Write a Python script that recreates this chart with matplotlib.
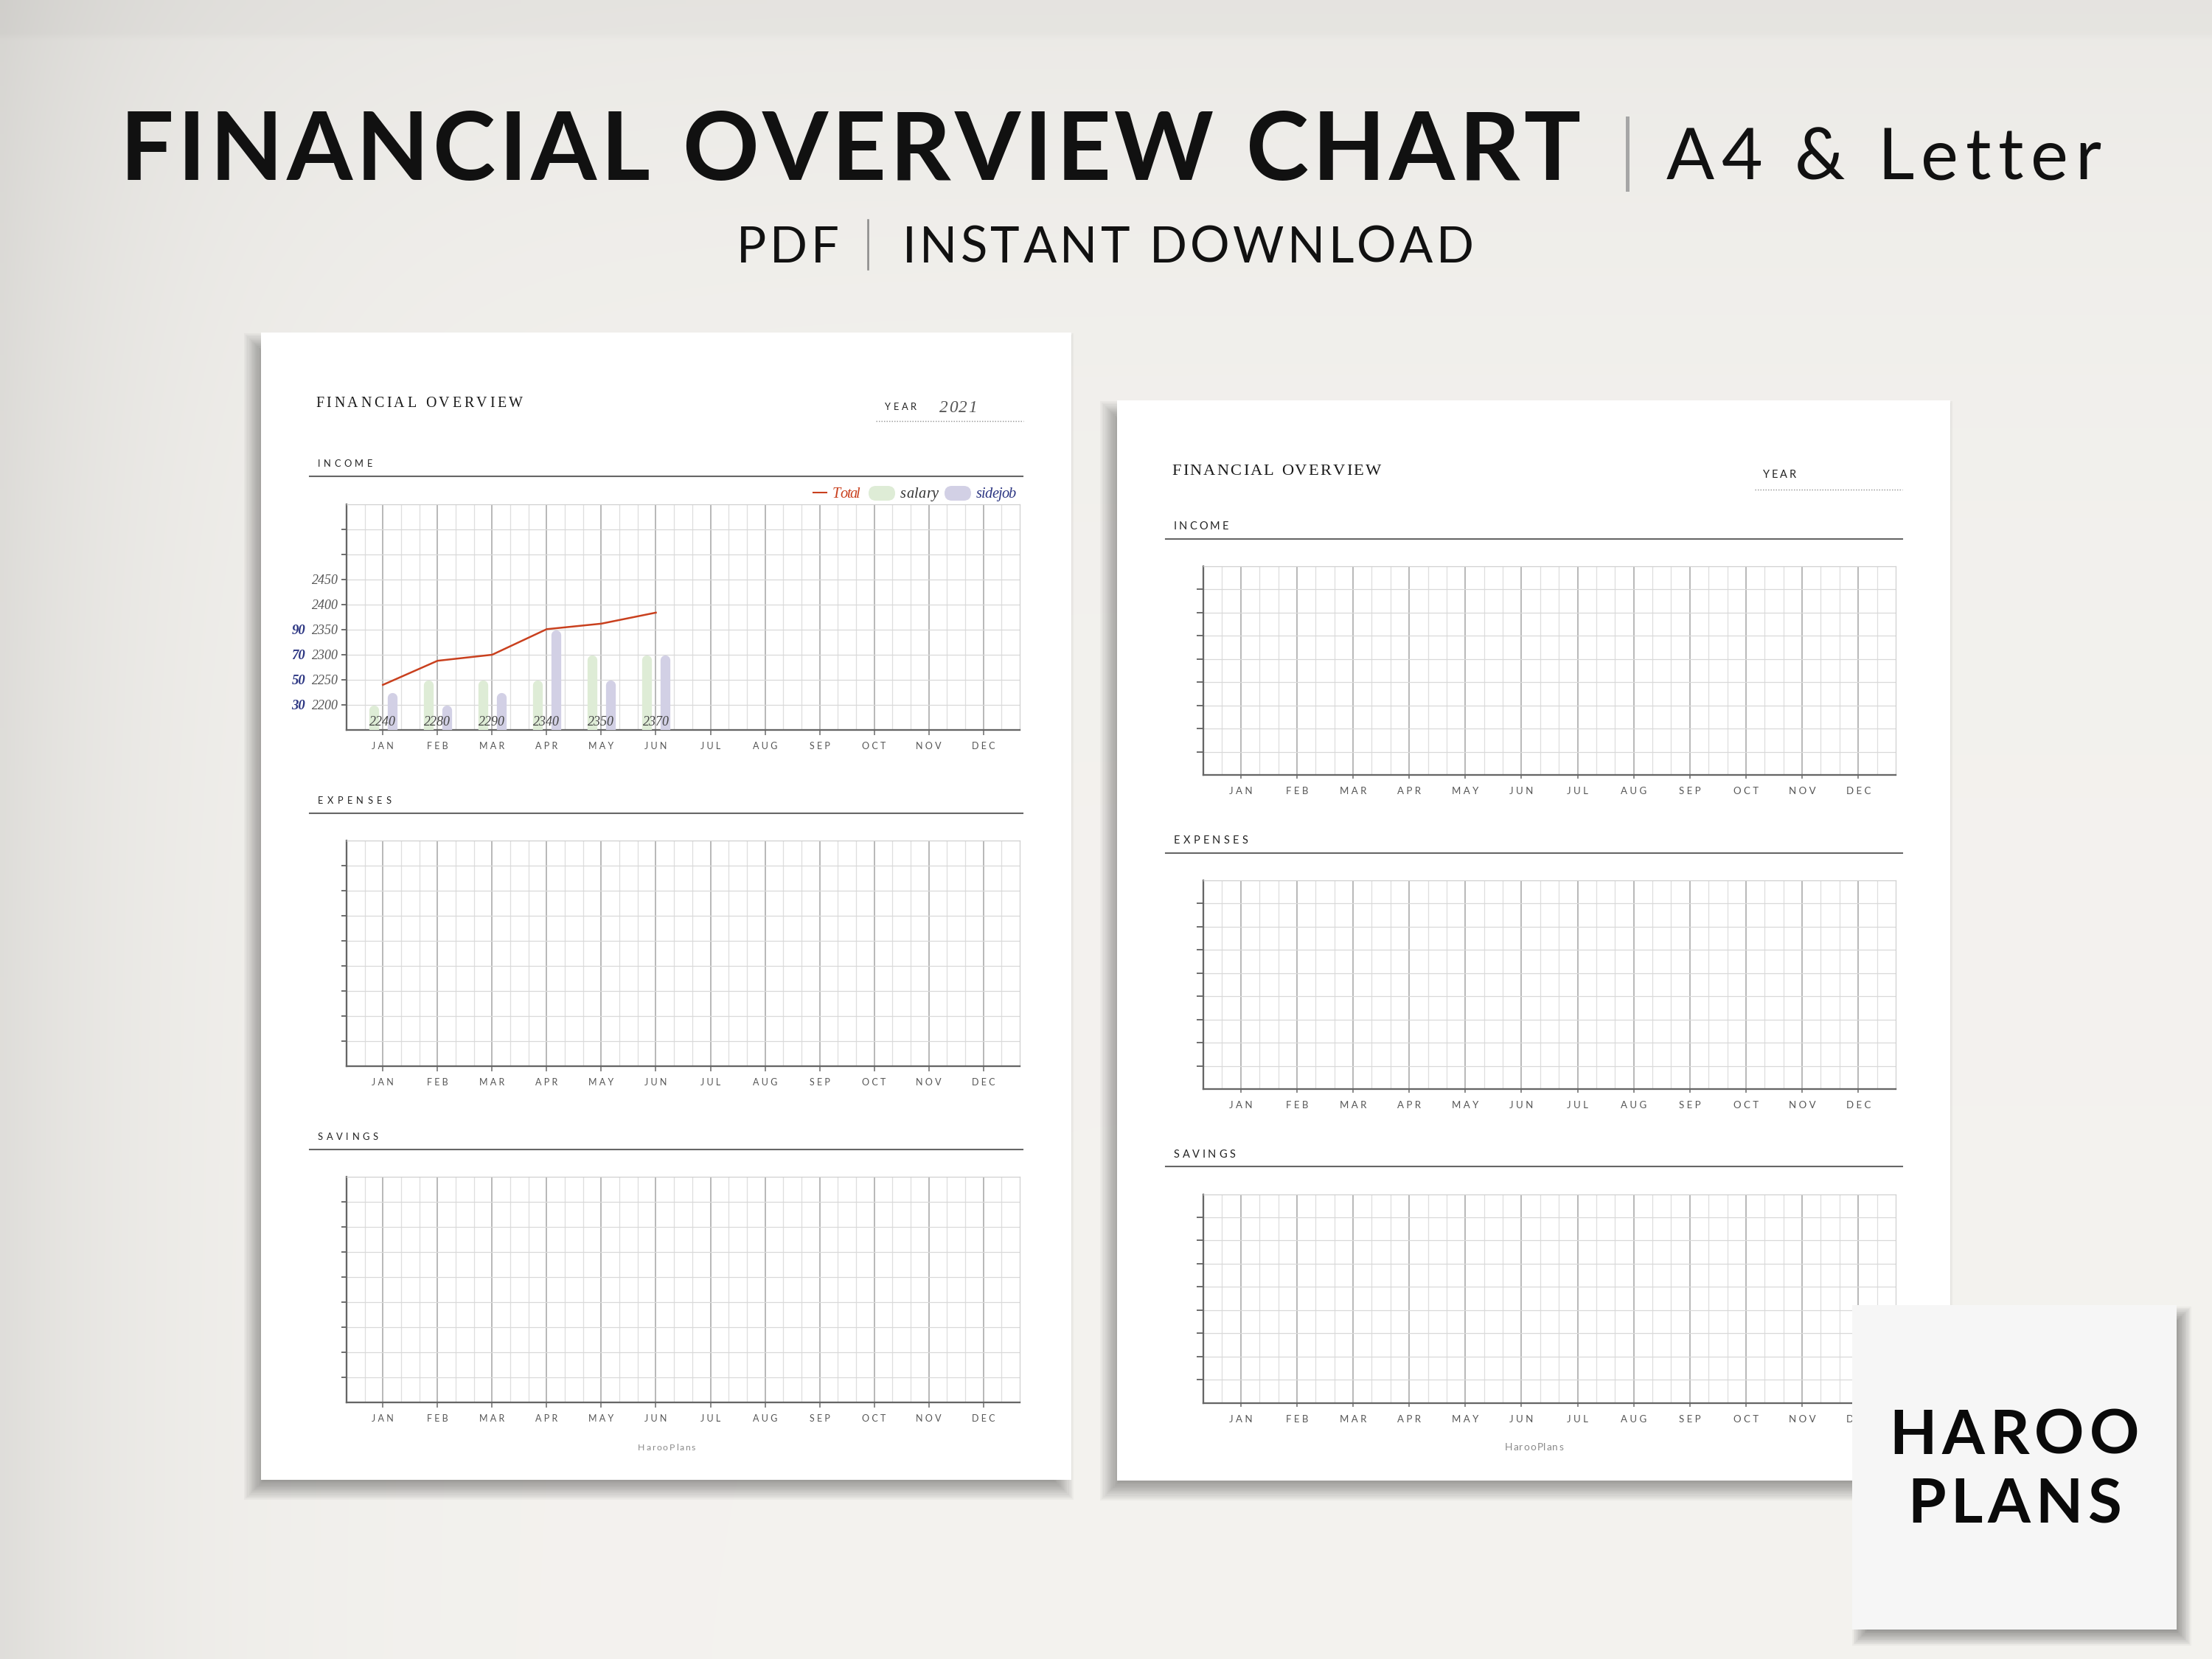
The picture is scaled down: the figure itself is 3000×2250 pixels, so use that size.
import numpy as np
import matplotlib
matplotlib.use("Agg")
import matplotlib.pyplot as plt
from matplotlib.patches import Rectangle, FancyBboxPatch
from matplotlib.transforms import blended_transform_factory

# ---------------- data ----------------
months = ["JAN", "FEB", "MAR", "APR", "MAY", "JUN",
          "JUL", "AUG", "SEP", "OCT", "NOV", "DEC"]
salary = [2200, 2250, 2250, 2250, 2300, 2300]
sidejob = [40, 30, 40, 90, 50, 70]
total_line = [2240, 2288, 2300, 2351, 2362, 2384]
total_labels = ["2240", "2280", "2290", "2340", "2350", "2370"]
income_yticks = [2200, 2250, 2300, 2350, 2400, 2450, 2500, 2550]
income_ytick_labels = ["2200", "2250", "2300", "2350", "2400", "2450", "", ""]
income_ylim = (2150, 2600)
side_ticks = [30, 50, 70, 90]
side_tick_labels = ["30", "50", "70", "90"]
side_ylim = (10, 190)
legend_labels = ["Total", "salary", "sidejob"]
year_text = "2021"
sections = ["INCOME", "EXPENSES", "SAVINGS"]

# ---------------- colours ----------------
RED = "#c9401e"
GREEN = "#deecd6"
PURPLE = "#d2d0e5"
NAVY = "#2b3582"

W, H = 3000, 2250
fig = plt.figure(figsize=(10, 7.5), dpi=300)
R = fig.canvas.get_renderer()


def rect(x0, y0, x1, y1):
    return [x0 / W, 1 - y1 / H, (x1 - x0) / W, (y1 - y0) / H]


bg = fig.add_axes([0, 0, 1, 1], zorder=0)
bg.set_xlim(0, W)
bg.set_ylim(H, 0)
bg.axis("off")

top = fig.add_axes([0, 0, 1, 1], zorder=20)
top.set_xlim(0, W)
top.set_ylim(H, 0)
top.axis("off")
top.patch.set_alpha(0)

# background gradient
gx = np.linspace(0, W, 300)
gy = np.linspace(0, H, 225)
X, Y = np.meshgrid(gx, gy)
lum = 0.952 - 0.08 * np.exp(-X / 210) - 0.035 * np.exp(-Y / 420)
lum = lum - 0.022 * (Y < 46)
rgb = np.dstack([lum + 0.004, lum - 0.002, lum - 0.016]).clip(0, 1)
bg.imshow(rgb, extent=(0, W, H, 0), aspect="auto", interpolation="bilinear", zorder=0)


def tracked(ax, s, x, y, size, family="Lato", weight="normal", style="normal",
            color="#111111", x1=None, tracking=0.0, ha="left", z=5):
    ws = []
    for ch in s:
        if ch == " ":
            ws.append(size * 300 / 72 * 0.26)
        else:
            t = ax.text(0, 0, ch, fontsize=size, family=family, weight=weight, style=style)
            ws.append(t.get_window_extent(renderer=R).width)
            t.remove()
    nat = sum(ws)
    if x1 is not None and len(s) > 1:
        tracking = (x1 - x - nat) / (len(s) - 1)
    total = nat + tracking * (len(s) - 1)
    if ha == "center":
        x -= total / 2
    elif ha == "right":
        x -= total
    cx = x
    for ch, w in zip(s, ws):
        if ch != " ":
            ax.text(cx, y, ch, fontsize=size, family=family, weight=weight, style=style,
                    color=color, ha="left", va="baseline", zorder=z)
        cx += w + tracking


def soft_shadow(ax, x0, y0, x1, y1, ox, oy, blur, alpha, z):
    n = 18
    a = 1 - (1 - alpha) ** (1 / n)
    for i in range(n):
        g = -blur + 1.5 * blur * (i + 1) / n
        ax.add_patch(Rectangle((x0 + ox - g, y0 + oy - g), (x1 - x0) + 2 * g, (y1 - y0) + 2 * g,
                               fc="black", ec="none", alpha=a, zorder=z))


# ---------------- header ----------------
tracked(bg, "FINANCIAL OVERVIEW CHART", 163, 244, 30.8, weight="bold", x1=2143)
bg.plot([2207, 2207], [160, 257], color="#a6a6a6", lw=1.2, zorder=5)
tracked(bg, "A4 & Letter", 2260, 243, 23.1, x1=2849)
tracked(bg, "PDF", 999, 356, 16.1, x1=1138)
bg.plot([1177, 1177], [298, 365], color="#8a8a8a", lw=0.6, zorder=5)
tracked(bg, "INSTANT DOWNLOAD", 1224, 356, 16.1, x1=1999)

# ---------------- pages ----------------
soft_shadow(bg, 354, 451, 1453, 2007, -10, 14, 26, 0.45, 1)
bg.add_patch(Rectangle((354, 451), 1453 - 354, 2007 - 451, fc="white", ec="none", zorder=2))
soft_shadow(bg, 1515, 543, 2645, 2008, -10, 14, 26, 0.45, 1)
bg.add_patch(Rectangle((1515, 543), 2645 - 1515, 2008 - 543, fc="white", ec="none", zorder=2))

minor_pos = [k / 3 for k in range(-1, 35) if k % 3 != 0]


def grid_chart(x0, y0, x1, y1, ylim, yticks, label_size, xtick_len, ytick_len, pad, z=3):
    ax = fig.add_axes(rect(x0, y0, x1, y1), zorder=z)
    ax.set_xlim(-2 / 3, 35 / 3)
    ax.set_ylim(*ylim)
    ax.set_xticks(range(len(months)))
    ax.set_xticklabels([" ".join(m) for m in months], fontsize=label_size,
                       family="Lato", color="#555555")
    ax.set_xticks(minor_pos, minor=True)
    ax.set_yticks(yticks)
    ax.set_yticklabels([])
    ax.tick_params(axis="x", which="major", length=xtick_len, width=0.4, color="#777777", pad=pad)
    ax.tick_params(axis="x", which="minor", length=0)
    ax.tick_params(axis="y", length=ytick_len, width=0.4, color="#555555", pad=0.8)
    ax.grid(which="major", axis="x", color="#ababab", lw=0.4)
    ax.grid(which="minor", axis="x", color="#dedede", lw=0.3)
    ax.grid(which="major", axis="y", color="#d9d9d9", lw=0.3)
    ax.set_axisbelow(True)
    for s in ["left", "bottom"]:
        ax.spines[s].set_color("#666666")
        ax.spines[s].set_linewidth(0.55)
    for s in ["top", "right"]:
        ax.spines[s].set_color("#d0d0d0")
        ax.spines[s].set_linewidth(0.3)
    ax.patch.set_facecolor("white")
    return ax


def page_text(title_x, title_x1, title_base, title_size, year_x, year_x1, year_base,
              dots, sec_x, sec_fits, sec_bases, rules, rule_x, small,
              footer, foot_base, foot_x0, foot_x1):
    tracked(bg, "FINANCIAL OVERVIEW", title_x, title_base, title_size,
            family="Liberation Serif", x1=title_x1, color="#1a1a1a")
    tracked(bg, "YEAR", year_x, year_base, small, x1=year_x1, color="#222222")
    bg.plot(dots[:2], [dots[2]] * 2, color="#999999", lw=0.35, ls=(0, (1, 1.4)), zorder=5)
    for name, x1s, b, ry in zip(sections, sec_fits, sec_bases, rules):
        tracked(bg, name, sec_x, b, small, x1=x1s, color="#222222")
        bg.plot(rule_x, [ry, ry], color="#666666", lw=0.5, zorder=5)
    tracked(bg, footer, foot_x0, foot_base, small * 0.95, x1=foot_x1, color="#8a8a8a")


# left page text
page_text(428, 709, 552, 4.8, 1200, 1243, 556, (1188, 1388, 571), 431,
          [505, 530.5, 513], [633, 1090, 1546], [646, 1102.5, 1558.5], [420, 1387],
          3.1, "HarooPlans", 1967, 865, 943)
tracked(bg, year_text, 1274, 559, 5.6, family="Liberation Serif", style="italic",
        color="#555555", x1=1325)

# right page text
page_text(1589, 1873, 644, 5.4, 2391, 2436, 648, (2380, 2580, 664), 1592,
          [1666, 1692, 1675], [717.5, 1143.7, 1570], [731, 1156.5, 1582], [1581, 2580],
          3.5, "HarooPlans", 1967, 2041, 2120)

# ---------------- left page charts ----------------
ax_inc = grid_chart(470, 684, 1383, 990, income_ylim, income_yticks, 3.0, 1.6, 1.75, 2.3)
ax_inc.set_yticklabels(income_ytick_labels, family="Liberation Serif", style="italic",
                       fontsize=4.3, color="#555555")
for cy0 in (1140, 1596):
    grid_chart(470, cy0, 1383, cy0 + 306, (0, 9), range(1, 9), 3.0, 1.6, 1.75, 2.3)

# right page charts
for cy0 in (768, 1194, 1619.5):
    grid_chart(1632, cy0, 2571, cy0 + 283, (0, 9), range(1, 9), 3.2, 1.3, 2.1, 2.6)

# ---------------- income data layers ----------------
bar_px = 13.3
bar_lw = bar_px * 72 / 300
x_idx = np.arange(len(salary))
h_px = 990 - 684

ax_side = fig.add_axes(rect(470, 684, 1383, 990), zorder=4)
ax_side.set_xlim(-2 / 3, 35 / 3)
ax_side.set_ylim(*side_ylim)
ax_side.patch.set_alpha(0)
ax_side.set_frame_on(False)
ax_side.xaxis.set_visible(False)
ax_side.set_yticks(side_ticks)
ax_side.set_yticklabels(side_tick_labels, family="Liberation Serif", style="italic",
                        fontsize=4.5, color=NAVY, weight="bold")
ax_side.tick_params(axis="y", length=0, pad=13.4)
r_side = bar_px / 2 * (side_ylim[1] - side_ylim[0]) / h_px
ax_side.vlines(x_idx + 1 / 6, side_ylim[0], np.array(sidejob) - r_side, colors=PURPLE,
               linewidth=bar_lw, capstyle="round")

ax_main = fig.add_axes(rect(470, 684, 1383, 990), zorder=5)
ax_main.set_xlim(-2 / 3, 35 / 3)
ax_main.set_ylim(*income_ylim)
ax_main.axis("off")
r_main = bar_px / 2 * (income_ylim[1] - income_ylim[0]) / h_px
ax_main.vlines(x_idx - 1 / 6, income_ylim[0], np.array(salary) - r_main, colors=GREEN,
               linewidth=bar_lw, capstyle="round")
ax_main.plot(x_idx, total_line, color=RED, lw=0.6, solid_joinstyle="round")
blend = blended_transform_factory(ax_main.transData, ax_main.transAxes)
for i, lbl in enumerate(total_labels):
    ax_main.text(i, 0.035, lbl, transform=blend, ha="center", va="center", fontsize=4.3,
                 family="Liberation Serif", style="italic", color="#444444")

# legend (drawn in page coordinates)
bg.plot([1103, 1121], [668, 668], color=RED, lw=0.5, zorder=5)
tracked(bg, legend_labels[0], 1129, 675, 4.9, family="Liberation Serif", style="italic",
        color=RED, x1=1167)
bg.add_patch(FancyBboxPatch((1178, 659), 36, 20, boxstyle="round,pad=0,rounding_size=10",
                            fc=GREEN, ec="none", zorder=5))
tracked(bg, legend_labels[1], 1221, 675, 4.9, family="Liberation Serif", style="italic",
        color="#333333", x1=1273)
bg.add_patch(FancyBboxPatch((1281, 659), 36, 20, boxstyle="round,pad=0,rounding_size=10",
                            fc=PURPLE, ec="none", zorder=5))
tracked(bg, legend_labels[2], 1324, 675, 4.9, family="Liberation Serif", style="italic",
        color=NAVY, x1=1378)

# ---------------- logo box ----------------
soft_shadow(top, 2512, 1770, 2952, 2210, 10, 12, 20, 0.42, 1)
top.add_patch(Rectangle((2512, 1770), 440, 440, fc="#f6f6f6", ec="none", zorder=2))
tracked(top, "HAROO", 2562, 1972, 20.0, weight="bold", x1=2901, color="#0a0a0a")
tracked(top, "PLANS", 2587, 2065, 20.0, weight="bold", x1=2877, color="#0a0a0a")

fig.savefig("out.png", dpi=300)
